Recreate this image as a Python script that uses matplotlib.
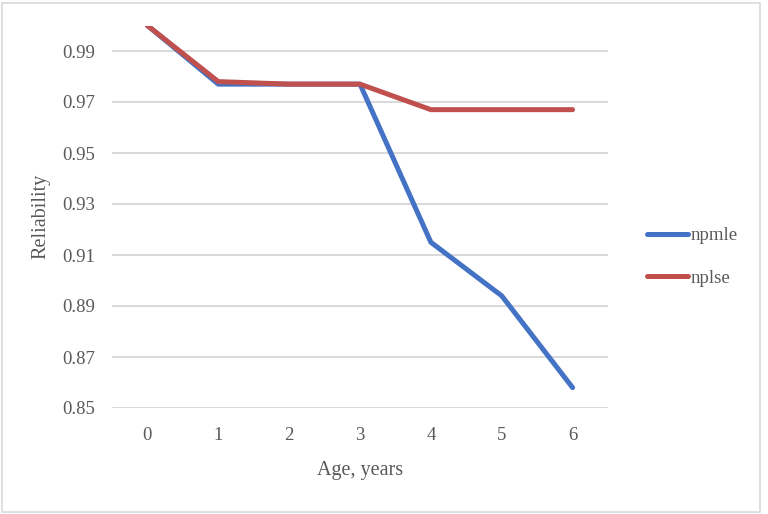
import matplotlib
matplotlib.use("Agg")

import matplotlib.pyplot as plt
from matplotlib.patches import Rectangle

# data
ages = [0, 1, 2, 3, 4, 5, 6]
npmle = [1.000, 0.977, 0.977, 0.977, 0.915, 0.894, 0.858]
nplse = [1.000, 0.978, 0.977, 0.977, 0.967, 0.967, 0.967]
y_ticks = [0.85, 0.87, 0.89, 0.91, 0.93, 0.95, 0.97, 0.99]
y_tick_labels = ["0.85", "0.87", "0.89", "0.91", "0.93", "0.95", "0.97", "0.99"]

TEXT = "#595959"
GRID = "#D9D9D9"
BLUE = "#4472C4"
RED = "#C0504D"

plt.rcParams["font.family"] = ["Liberation Serif", "DejaVu Serif"]

fig = plt.figure(figsize=(7.68, 5.14), dpi=100)
fig.patch.set_facecolor("white")

# chart border
fig.patches.append(Rectangle((2 / 768, 2 / 514), 758 / 768, 509 / 514,
                             transform=fig.transFigure, fill=False,
                             edgecolor="#D9D9D9", linewidth=1.2))

ax = fig.add_axes([112 / 768, 1 - 408 / 514, 496 / 768, 382.5 / 514])

ax.plot(ages, npmle, color=BLUE, linewidth=3.6, label="npmle",
        solid_joinstyle="round", solid_capstyle="round", zorder=3)
ax.plot(ages, nplse, color=RED, linewidth=3.6, label="nplse",
        solid_joinstyle="round", solid_capstyle="round", zorder=4)

ax.set_xlim(-0.5, 6.5)
ax.set_ylim(0.85, 1.0)
ax.set_xticks(ages)
ax.set_yticks(y_ticks)
ax.set_yticklabels(y_tick_labels)
ax.tick_params(axis="both", length=0, labelsize=13.5, labelcolor=TEXT)
ax.tick_params(axis="y", pad=12)
ax.tick_params(axis="x", pad=14)

ax.grid(axis="y", color=GRID, linewidth=1.4)
ax.set_axisbelow(True)
for side in ["top", "right", "left", "bottom"]:
    ax.spines[side].set_visible(False)

ax.set_xlabel("Age, years", fontsize=14.5, color=TEXT, labelpad=12)
ax.set_ylabel("Reliability", fontsize=14.5, color=TEXT, labelpad=9)

fig.legend(loc="center left", bbox_to_anchor=(630 / 768, 1 - 257 / 514),
           frameon=False, fontsize=13.5, labelcolor=TEXT, handlelength=2.2,
           handletextpad=0.15, labelspacing=1.35)

fig.savefig("out.png", dpi=100)
plt.close(fig)
